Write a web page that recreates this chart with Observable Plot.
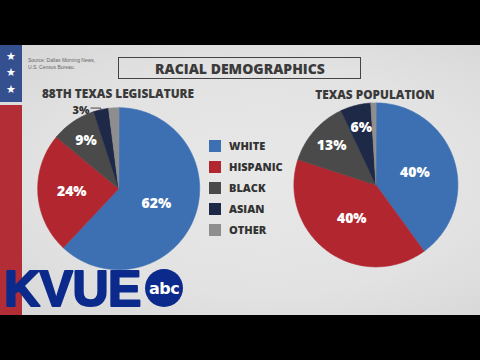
<!DOCTYPE html>
<html>
<head>
<meta charset="utf-8">
<script src="https://cdn.jsdelivr.net/npm/d3@7"></script>
<script src="https://cdn.jsdelivr.net/npm/@observablehq/plot@0.6"></script>
<style>
  html, body { margin: 0; padding: 0; background: #000; }
  #frame { position: relative; width: 480px; height: 360px; overflow: hidden; background: #000; font-family: "Open Sans", "Liberation Sans", sans-serif; }
  #panel { position: absolute; left: 0; top: 45px; width: 480px; height: 270px;
           background: radial-gradient(ellipse at 55% 50%, #e8e8e8 0%, #e2e2e2 60%, #d6d6d6 100%); }
  .abs { position: absolute; }
  .hdr { position: absolute; font-weight: 800; color: #3a3a3a; white-space: nowrap; line-height: 1; transform: translate(-50%, -50%); }
  .legtxt { position: absolute; font-weight: 800; color: #333; font-size: 11px; line-height: 12px; white-space: nowrap; }
  svg.pie { position: absolute; background: transparent; overflow: visible; }
</style>
</head>
<body>
<div id="frame">
  <div id="panel"></div>
</div>
<script>
// ---- data ----
const categories = ["WHITE", "HISPANIC", "BLACK", "ASIAN", "OTHER"];
const categoryColors = ["#3d70b2", "#b2272f", "#4a4a4a", "#1d2946", "#8e8e8e"];
const legislatureValues = [62, 24, 9, 3, 2];
const legislatureLabels = ["62%", "24%", "9%", "3%", ""];
const populationValues = [40, 40, 13, 6, 1];
const populationLabels = ["40%", "40%", "13%", "6%", ""];
const chartTitle = "RACIAL DEMOGRAPHICS";
const pieTitles = ["88TH TEXAS LEGISLATURE", "TEXAS POPULATION"];
const sourceLines = ["Source: Dallas Morning News,", "U.S. Census Bureau."];

const frame = document.getElementById("frame");
function el(tag, cls, style, text) {
  const e = document.createElement(tag);
  if (cls) e.className = cls;
  Object.assign(e.style, style);
  if (text != null) e.textContent = text;
  frame.appendChild(e);
  return e;
}

// flag stripe
el("div", "abs", {left: "0px", top: "45px", width: "22px", height: "57px", background: "#34508f"});
el("div", "abs", {left: "0px", top: "105px", width: "22px", height: "210px", background: "#b22d36"});
[57, 73, 90].forEach(y => el("div", "abs", {left: "4px", top: (y - 7) + "px", width: "14px", textAlign: "center",
  color: "#fff", fontSize: "11px", lineHeight: "14px", fontFamily: "DejaVu Sans"}, "★"));

// source
sourceLines.forEach((s, i) => el("div", "abs", {left: "28px", top: (57 + i * 7) + "px", fontSize: "5px",
  lineHeight: "6px", color: "#666", whiteSpace: "nowrap", fontFamily: "Liberation Sans"}, s));

// title box
el("div", "abs", {left: "118px", top: "57px", width: "241px", height: "20px", border: "1.5px solid #444",
  boxSizing: "content-box"});
el("div", "hdr", {left: "240px", top: "69px", fontSize: "14px"}, chartTitle);

// pie titles
el("div", "hdr", {left: "118px", top: "94px", fontSize: "11.8px"}, pieTitles[0]);
el("div", "hdr", {left: "375px", top: "94.5px", fontSize: "11.8px"}, pieTitles[1]);

// legend
categories.forEach((c, i) => {
  const cy = 146 + i * 21;
  el("div", "abs", {left: "209px", top: (cy - 6) + "px", width: "12px", height: "12px", background: categoryColors[i]});
  el("div", "legtxt", {left: "229px", top: (cy - 6) + "px"}, c);
});

// pies
function labelRadius(f) {
  return f > 0.3 ? 0.5 : f > 0.15 ? 0.58 : f > 0.05 ? 0.72 : 0.8;
}
function makePie(values, labels, cx, cy, R) {
  const ext = 1.2;
  const size = 2 * ext * R;
  const total = d3.sum(values);
  const polys = [], texts = [], leaders = [];
  let acc = 0;
  values.forEach((v, i) => {
    const a0 = acc / total * 2 * Math.PI;
    acc += v;
    const a1 = acc / total * 2 * Math.PI;
    const n = Math.max(2, Math.ceil((a1 - a0) / (Math.PI / 180)));
    polys.push({k: i, cat: categories[i], x: 0, y: 0});
    for (let j = 0; j <= n; j++) {
      const a = a0 + (a1 - a0) * j / n;
      polys.push({k: i, cat: categories[i], x: Math.sin(a), y: Math.cos(a)});
    }
    if (labels[i]) {
      const f = v / total, am = (a0 + a1) / 2;
      if (f < 0.04) {
        const p1 = {k: i, x: Math.sin(am) * 0.99, y: Math.cos(am) * 0.99};
        const p2 = {k: i, x: Math.sin(am) * 1.02, y: Math.cos(am) * 1.02};
        const p3 = {k: i, x: p2.x - 0.12, y: p2.y};
        leaders.push(p1, p2, p3);
        texts.push({x: p3.x - 0.02, y: p3.y, label: labels[i], inside: false});
      } else {
        const r = labelRadius(f);
        texts.push({x: Math.sin(am) * r, y: Math.cos(am) * r, label: labels[i], inside: true});
      }
    }
  });
  const svg = Plot.plot({
    width: size, height: size, margin: 0,
    x: {domain: [-ext, ext], axis: null},
    y: {domain: [-ext, ext], axis: null},
    color: {domain: categories, range: categoryColors},
    style: {background: "transparent", fontFamily: "Open Sans"},
    marks: [
      Plot.line(polys, {x: "x", y: "y", z: "k", fill: "cat", stroke: "cat", strokeWidth: 0.6, curve: "linear-closed"}),
      Plot.line(leaders, {x: "x", y: "y", z: "k", stroke: "#444", strokeWidth: 1}),
      Plot.text(texts.filter(d => d.inside), {x: "x", y: "y", text: "label", fill: "#fff", fontSize: 14, fontWeight: 800}),
      Plot.text(texts.filter(d => !d.inside), {x: "x", y: "y", text: "label", fill: "#333", fontSize: 11, fontWeight: 800, textAnchor: "end", dy: 2})
    ]
  });
  svg.classList.add("pie");
  svg.style.left = (cx - size / 2) + "px";
  svg.style.top = (cy - size / 2) + "px";
  frame.appendChild(svg);
}
makePie(legislatureValues, legislatureLabels, 118, 188, 81);
makePie(populationValues, populationLabels, 375, 184, 82);

// logo
const ns = "http://www.w3.org/2000/svg";
const logo = document.createElementNS(ns, "svg");
logo.setAttribute("width", "200"); logo.setAttribute("height", "60");
Object.assign(logo.style, {position: "absolute", left: "0px", top: "260px"});
logo.innerHTML = `
  <text x="4" y="46" font-family="Liberation Sans" font-weight="700" font-size="50" fill="#0b2a8c" stroke="#0b2a8c" stroke-width="2" stroke-linejoin="round" letter-spacing="-0.5">KVUE</text>
  <circle cx="164" cy="28" r="19" fill="#0b2a8c"/>
  <text x="164" y="33.5" text-anchor="middle" font-family="DejaVu Sans" font-weight="700" font-size="16" fill="#fff" letter-spacing="-0.5">abc</text>`;
frame.appendChild(logo);
</script>
</body>
</html>
